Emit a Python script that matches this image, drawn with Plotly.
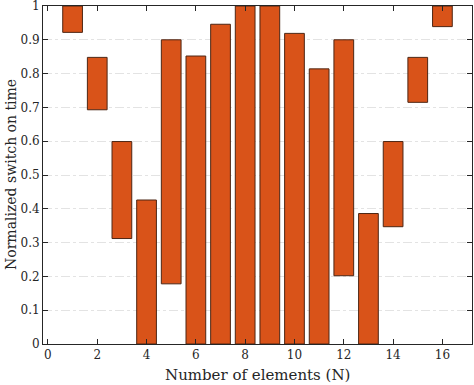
import plotly.graph_objects as go

elements = list(range(1, 17))
bottoms = [0.922, 0.693, 0.312, 0.0, 0.178, 0.0, 0.0, 0.0, 0.0, 0.0, 0.0, 0.202, 0.0, 0.347, 0.715, 0.939]
tops = [1.0, 0.848, 0.599, 0.426, 0.900, 0.852, 0.946, 1.0, 1.0, 0.919, 0.814, 0.900, 0.386, 0.599, 0.848, 1.0]
x_ticks = list(range(0, 17, 2))
y_ticks = [0, 0.1, 0.2, 0.3, 0.4, 0.5, 0.6, 0.7, 0.8, 0.9, 1]
y_tick_labels = ["0", "0.1", "0.2", "0.3", "0.4", "0.5", "0.6", "0.7", "0.8", "0.9", "1"]

heights = [t - b for t, b in zip(tops, bottoms)]

fig = go.Figure(go.Bar(
    x=elements, y=heights, base=bottoms, width=0.8,
    marker=dict(color="#D95319", line=dict(color="#4d2614", width=1)),
))

font = "DejaVu Serif"
fig.update_layout(
    template="none",
    width=474, height=385,
    margin=dict(l=43, r=2, t=6, b=41, autoexpand=False),
    plot_bgcolor="white", paper_bgcolor="white",
    showlegend=False,
    font=dict(family=font, size=13, color="#262626"),
    annotations=[
        dict(text="Number of elements (N)", xref="paper", yref="paper",
             x=0.5, y=0, yshift=-31, xanchor="center", yanchor="middle",
             showarrow=False, font=dict(size=15)),
        dict(text="Normalized switch on time", xref="paper", yref="paper",
             x=0, y=0.5, xshift=-32, xanchor="center", yanchor="middle",
             textangle=-90, showarrow=False, font=dict(size=14)),
    ],
)
fig.update_xaxes(
    automargin=False,
    range=[-0.2, 17.2], tickvals=x_ticks, ticks="inside", ticklen=5,
    tickcolor="#262626", showline=True, linecolor="#262626", linewidth=1,
    mirror="ticks", showgrid=False, zeroline=False,
    tickfont=dict(size=12), ticklabeloverflow="allow",
)
fig.update_yaxes(
    automargin=False,
    range=[0, 1], tickvals=y_ticks, ticktext=y_tick_labels, ticks="inside", ticklen=5,
    tickcolor="#262626", showline=True, linecolor="#262626", linewidth=1,
    mirror="ticks", showgrid=True, gridcolor="#e3e3e3", griddash="dashdot",
    zeroline=False,
    tickfont=dict(size=12), ticklabeloverflow="allow",
)
fig.write_html("out.html", config={"displayModeBar": False},
               post_script="document.body.style.margin='0';document.body.style.overflow='hidden';")
